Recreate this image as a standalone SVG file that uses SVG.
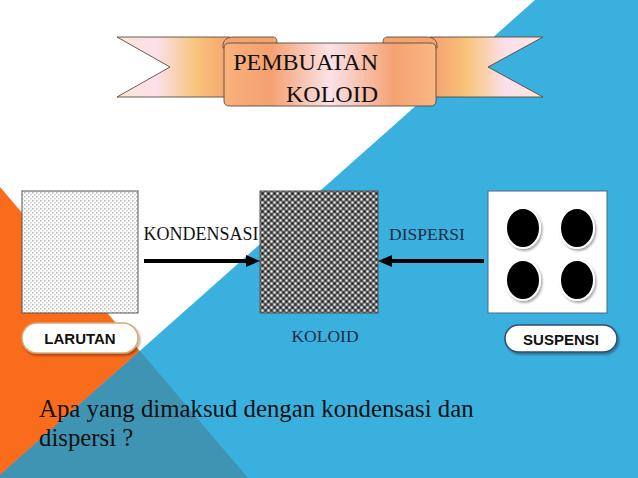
<svg xmlns="http://www.w3.org/2000/svg" width="638" height="478" viewBox="0 0 638 478">
<style>
.serif{font-family:"Liberation Serif","Times New Roman",serif;}
.sans{font-family:"Liberation Sans",Arial,sans-serif;font-weight:bold;}
.ban{stroke:#5a4a40;stroke-width:0.9;}
.box{stroke:#555;stroke-width:1;}
.pill{fill:#fff;stroke-width:1.5;}
.arrow{stroke:#000;stroke-width:4;fill:none;}
.blob{fill:#000;stroke:#fff;stroke-width:2;}
</style>
<defs>
<linearGradient id="gL" x1="117" y1="0" x2="230" y2="0" gradientUnits="userSpaceOnUse">
<stop offset="0" stop-color="#fde6d6"/><stop offset="0.35" stop-color="#fbe0ea"/><stop offset="0.7" stop-color="#f8c47a"/><stop offset="1" stop-color="#f5a470"/>
</linearGradient>
<linearGradient id="gR" x1="435" y1="0" x2="543" y2="0" gradientUnits="userSpaceOnUse">
<stop offset="0" stop-color="#f5a470"/><stop offset="0.3" stop-color="#f8c47a"/><stop offset="0.65" stop-color="#fbe0ea"/><stop offset="1" stop-color="#fde6d6"/>
</linearGradient>
<linearGradient id="gC" x1="224" y1="0" x2="436" y2="0" gradientUnits="userSpaceOnUse">
<stop offset="0" stop-color="#f8b27c"/><stop offset="0.22" stop-color="#f5a070"/><stop offset="0.5" stop-color="#fbe2e8"/><stop offset="0.8" stop-color="#f5a272"/><stop offset="1" stop-color="#f8b884"/>
</linearGradient>
<pattern id="pDot" width="4" height="4" patternUnits="userSpaceOnUse">
<rect width="4" height="4" fill="#fff"/>
<rect x="0" y="0" width="1.5" height="1.5" fill="#b8b8b8"/>
<rect x="2" y="2" width="1.5" height="1.5" fill="#c8c8c8"/>
</pattern>
<pattern id="pKol" width="6" height="6" patternUnits="userSpaceOnUse">
<rect width="6" height="6" fill="#6a6a6a"/>
<rect x="0.5" y="0.5" width="2" height="2" fill="#fff"/>
<rect x="3.5" y="3.5" width="2" height="2" fill="#f0f0f0"/>
<rect x="3.5" y="0.5" width="2" height="2" fill="#1a1a1a"/>
<rect x="0.5" y="3.5" width="2" height="2" fill="#2a2a2a"/>
</pattern>
<filter id="sh" x="-20%" y="-30%" width="140%" height="170%">
<feDropShadow dx="1.5" dy="2" stdDeviation="1.2" flood-color="#000" flood-opacity="0.35"/>
</filter>
<marker id="ah" markerUnits="userSpaceOnUse" markerWidth="14" markerHeight="12" refX="6" refY="6" orient="auto">
<path d="M0,0 L14,6 L0,12 Z" fill="#000"/>
</marker>
</defs>

<g id="background">
<rect width="638" height="478" fill="#fff"/>
<polygon points="0,187 0,478 248,478" fill="#f96c1c"/>
<polygon points="535,0 638,0 638,478 0,478 0,475" fill="#3ab0df"/>
<polygon points="140,351 248,478 0,478 0,475" fill="#3f94b4"/>
</g>

<g id="title">
<polygon class="ban" points="117,37 230,37 230,97 117,97 170,67" fill="url(#gL)"/>
<polygon class="ban" points="543,37 430,37 430,97 543,97 488,67" fill="url(#gR)"/>
<path class="ban" d="M223,46 C223,40 227,37 234,37 L272,37 C276,37 277,39 277,43 L277,48 L223,48 Z" fill="url(#gL)"/>
<path class="ban" d="M383,48 L383,43 C383,39 384,37 388,37 L426,37 C433,37 437,40 437,46 L437,48 Z" fill="url(#gR)"/>
<path class="ban" d="M224,48 Q224,43 230,43 L430,43 Q436,43 436,48 L436,101 Q436,106 430,106 L230,106 Q224,106 224,101 Z" fill="url(#gC)"/>
<text class="serif" x="378" y="70" font-size="24" text-anchor="end" fill="#111">PEMBUATAN</text>
<text class="serif" x="378" y="102" font-size="24" text-anchor="end" fill="#111">KOLOID</text>
</g>

<g id="larutan">
<rect class="box" x="22" y="191" width="116" height="122" fill="url(#pDot)"/>
<rect class="pill" x="22" y="323" width="116" height="30" rx="15" stroke="#d9aa72" filter="url(#sh)"/>
<text class="sans" x="80" y="344" font-size="15" text-anchor="middle" fill="#111">LARUTAN</text>
</g>

<g id="koloid">
<rect class="box" x="260" y="191" width="118" height="122" fill="url(#pKol)" stroke="#333"/>
<text class="serif" x="325" y="342" font-size="17.5" text-anchor="middle" fill="#1c2c44">KOLOID</text>
</g>

<g id="suspensi">
<rect x="488" y="191" width="119" height="122" fill="#fff" stroke="#4a6a88" stroke-width="1"/>
<g filter="url(#sh)">
<ellipse class="blob" cx="523" cy="228" rx="17" ry="20"/>
<ellipse class="blob" cx="577" cy="228" rx="17" ry="20"/>
<ellipse class="blob" cx="523" cy="280" rx="17" ry="20"/>
<ellipse class="blob" cx="577" cy="280" rx="17" ry="20"/>
</g>
<rect class="pill" x="505" y="325" width="112" height="27" rx="13.5" stroke="#2e4c74" filter="url(#sh)"/>
<text class="sans" x="561" y="345" font-size="15" text-anchor="middle" fill="#111">SUSPENSI</text>
</g>

<g id="connectors">
<line class="arrow" x1="144" y1="261" x2="252" y2="261" marker-end="url(#ah)"/>
<text class="serif" x="201" y="240" font-size="18" text-anchor="middle" fill="#111">KONDENSASI</text>
<line class="arrow" x1="484" y1="261" x2="386" y2="261" marker-end="url(#ah)"/>
<text class="serif" x="427" y="240" font-size="17.5" text-anchor="middle" fill="#1c2c44">DISPERSI</text>
</g>

<g id="question">
<text class="serif" font-size="24.8" fill="#111"><tspan x="39" y="417">Apa yang dimaksud dengan kondensasi dan</tspan><tspan x="39" y="446">dispersi ?</tspan></text>
</g>
</svg>
